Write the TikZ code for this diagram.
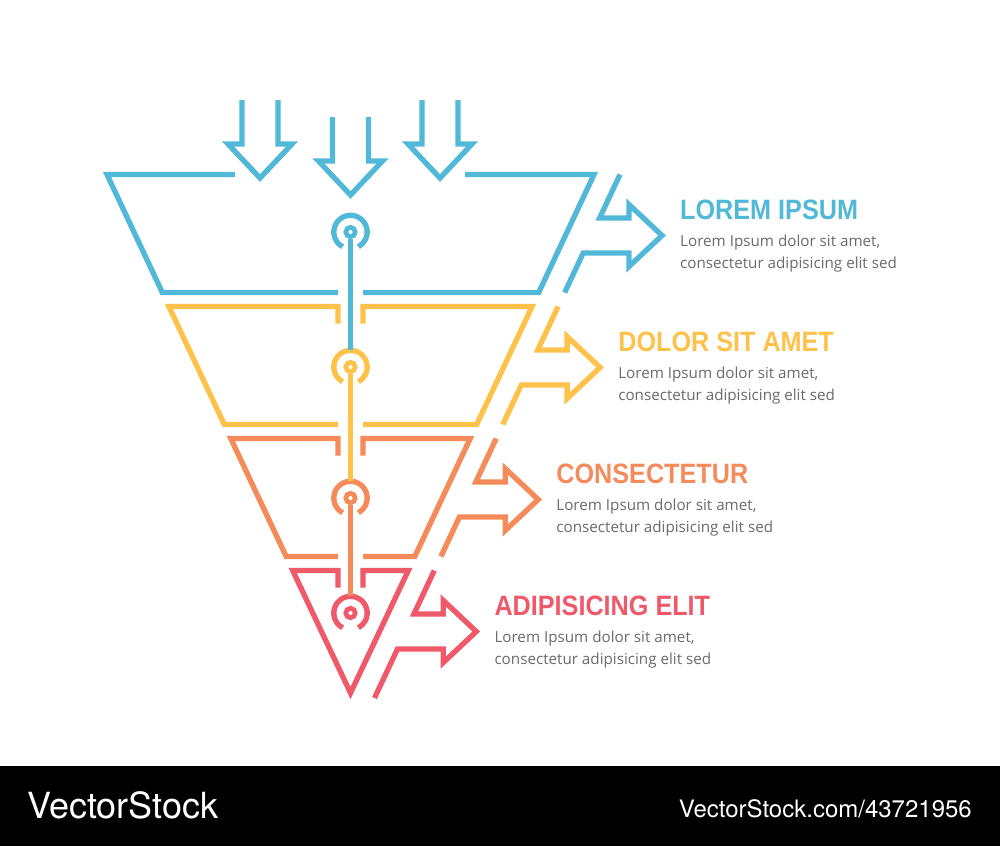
\documentclass[tikz,border=0pt]{standalone}
\usepackage{fontspec}
\setmainfont{Open Sans}
\newfontfamily\headfont[FakeStretch=0.9]{Liberation Sans}
\newfontfamily\barfont{TeX Gyre Heros}
\usetikzlibrary{calc}

\definecolor{fblue}{HTML}{52B8D8}
\definecolor{fyellow}{HTML}{FEC14A}
\definecolor{forange}{HTML}{F58B5B}
\definecolor{fred}{HTML}{EF5A6B}
\definecolor{ftext}{HTML}{6B6B6B}

\tikzset{
  outline/.style={line width=5.3pt, miter limit=10},
  stem/.style={line width=4.7pt},
  dot/.style={circle, draw, line width=4.7pt, inner sep=0pt, minimum size=9.4pt},
  title/.style={anchor=base west, inner sep=0pt, font=\headfont\bfseries\fontsize{28}{28}\selectfont},
  blurb/.style={anchor=base west, inner sep=0pt, align=left, text=ftext, font=\fontsize{15.2}{21.5}\selectfont},
}

\begin{document}
\begin{tikzpicture}[x=1pt,y=-1pt]
      \useasboundingbox (0,0) rectangle (1000,846);
      \fill[white] (0,0) rectangle (1000,766);

      \draw[outline, fblue] (242,100) -- (242,144) -- (228,144) -- (260,178) -- (292,144) -- (278,144) -- (278,100);
      \draw[outline, fblue] (332.5,117) -- (332.5,161) -- (318.5,161) -- (350.5,195) -- (382.5,161) -- (368.5,161) -- (368.5,117);
      \draw[outline, fblue] (422,100) -- (422,144) -- (408,144) -- (440,178) -- (472,144) -- (458,144) -- (458,100);

      \draw[outline, fblue] (235,174.5) -- (107,174.5) -- (162.3,292.5) -- (338,292.5)
            (363,292.5) -- (538.7,292.5) -- (594,174.5) -- (465,174.5);
      \draw[outline, fyellow] (338,323.5) -- (338,306.5) -- (168.9,306.5) -- (224.3,424.5) -- (338,424.5)
            (363,424.5) -- (476.7,424.5) -- (532.1,306.5) -- (363,306.5) -- (363,323.5);
      \draw[outline, forange] (338,455.5) -- (338,438.5) -- (230.8,438.5) -- (286.2,556.5) -- (338,556.5)
            (363,556.5) -- (414.8,556.5) -- (470.2,438.5) -- (363,438.5) -- (363,455.5);
      \draw[outline, fred] (338,587.5) -- (338,570.5) -- (292.7,570.5) -- (350.5,693) -- (408.3,570.5) -- (363,570.5) -- (363,587.5);

      \draw[outline, fblue] (620,174.5) -- ++(-20.4,43.5) -- ++(29.4,0) -- ++(0,-13.5) -- ++(33,31)
            -- ++(-33,31) -- ++(0,-13.5) -- ++(-45.8,0) -- ++(-18.5,39.5);
      \draw[outline, fyellow] (558.1,306.5) -- ++(-20.4,43.5) -- ++(29.4,0) -- ++(0,-13.5) -- ++(33,31)
            -- ++(-33,31) -- ++(0,-13.5) -- ++(-45.8,0) -- ++(-18.5,39.5);
      \draw[outline, forange] (496.2,438.5) -- ++(-20.4,43.5) -- ++(29.4,0) -- ++(0,-13.5) -- ++(33,31)
            -- ++(-33,31) -- ++(0,-13.5) -- ++(-45.8,0) -- ++(-18.5,39.5);
      \draw[outline, fred] (434.3,570.5) -- ++(-20.4,43.5) -- ++(29.4,0) -- ++(0,-13.5) -- ++(33,31)
            -- ++(-33,31) -- ++(0,-13.5) -- ++(-45.8,0) -- ++(-23,49);

      \coordinate (t2) at (350.5,350.3);
      \coordinate (t3) at (350.5,481.3);
      \coordinate (t4) at (350.5,596.3);

      \node[dot, fblue] (d1) at (350.5,232) {};
      \node[dot, fyellow] (d2) at (350.5,367) {};
      \node[dot, forange] (d3) at (350.5,498) {};
      \node[dot, fred] (d4) at (350.5,613) {};
      \draw[outline, fblue] (d1.center) ++(118:16.7) arc[start angle=118, end angle=422, radius=16.7];
      \draw[outline, fyellow] (d2.center) ++(118:16.7) arc[start angle=118, end angle=422, radius=16.7];
      \draw[outline, forange] (d3.center) ++(118:16.7) arc[start angle=118, end angle=422, radius=16.7];
      \draw[outline, fred] (d4.center) ++(118:16.7) arc[start angle=118, end angle=422, radius=16.7];
      \draw[stem, fblue] (d1.south) -- (t2);
      \draw[stem, fyellow] (d2.south) -- (t3);
      \draw[stem, forange] (d3.south) -- (t4);

      \node[title, text=fblue] (h1) at (680,219.5) {LOREM IPSUM};
      \node[blurb] (b1) at (680,268) {Lorem Ipsum dolor sit amet,\\consectetur adipisicing elit sed};
      \node[title, text=fyellow] (h2) at (618.1,351.5) {DOLOR SIT AMET};
      \node[blurb] (b2) at (618.1,400) {Lorem Ipsum dolor sit amet,\\consectetur adipisicing elit sed};
      \node[title, text=forange] (h3) at (556.2,483.5) {CONSECTETUR};
      \node[blurb] (b3) at (556.2,532) {Lorem Ipsum dolor sit amet,\\consectetur adipisicing elit sed};
      \node[title, text=fred] (h4) at (494.3,615.5) {ADIPISICING ELIT};
      \node[blurb] (b4) at (494.3,664) {Lorem Ipsum dolor sit amet,\\consectetur adipisicing elit sed};

      \fill[black] (0,766) rectangle (1000,846);
      \node[anchor=base west, inner sep=0pt, text=white, font=\barfont\fontsize{36}{36}\selectfont] (brand) at (27,818) {VectorStock};
      \node[anchor=base east, inner sep=0pt, text=white, font=\barfont\fontsize{24}{24}\selectfont] (link) at (972,817) {VectorStock.com/43721956};
    \end{tikzpicture}
\end{document}
